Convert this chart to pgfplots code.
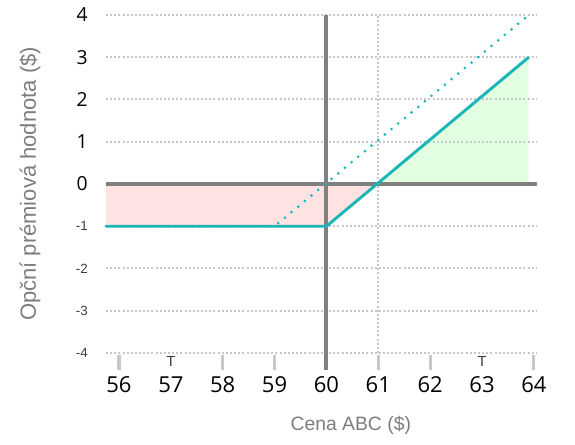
\documentclass[border=0pt]{standalone}
\usepackage{fontspec}
\setmainfont{Open Sans}
\newfontfamily\arial{Liberation Sans}
\usepackage{pgfplots}
\pgfplotsset{compat=1.18}
\definecolor{teal1}{RGB}{26,182,184}
\definecolor{gridc}{RGB}{200,200,200}
\definecolor{axgray}{RGB}{128,128,128}
\definecolor{redf}{RGB}{255,226,226}
\definecolor{greenf}{RGB}{226,255,226}
\definecolor{labgray}{RGB}{125,125,125}
\definecolor{neggray}{RGB}{60,60,60}
\newcommand{\neglab}[1]{{\arial\fontsize{10}{10}\selectfont\color{neggray}#1}}
\begin{document}
\begin{tikzpicture}
\begin{axis}[
  set layers=standard,
  at={(79.5pt,69pt)}, anchor=south west,
  scale only axis, width=323.25pt, height=253.5pt,
  xmin=55.75, xmax=64.06, ymin=-4, ymax=4,
  axis line style={draw=none},
  xtick={56,...,64}, ytick={-4,...,4},
  tick pos=left,
  major tick length=0pt,
  /pgf/number format/assume math mode=true,
  ymajorgrids,
  grid style={gridc, line width=1.5pt, dash pattern=on 1.5pt off 1.6pt},
  xticklabel style={font=\fontsize{16.5}{16.5}\selectfont, anchor=center, yshift=-24pt},
  yticklabel style={font=\fontsize{14.5}{15}\selectfont, anchor=east, inner sep=0pt, xshift=-13.5pt},
  yticklabels={{\neglab{-4}},{\neglab{-3}},{\neglab{-2}},{\neglab{-1}},0,1,2,3,4},
  extra x ticks={56,58,59,61,62,64},
  extra x tick labels={},
  extra x tick style={major tick length=11pt, tick align=outside, tick style={gridc, line width=2.3pt, yshift=-1.5pt}},
  ylabel={\arial Opční prémiová hodnota (\$)},
  ylabel style={font=\fontsize{16.5}{18}\selectfont, text=labgray, at={(axis description cs:-0.1763,0.5)}, anchor=center},
  xlabel={\arial Cena ABC (\$)},
  xlabel style={font=\fontsize{14.5}{16}\selectfont, text=labgray, at={(axis description cs:0.568,-0.213)}, anchor=center},
  clip=false,
]
% shaded regions
\addplot[draw=none, fill=redf, on layer=axis background] coordinates {(55.75,0) (61,0) (60,-1) (55.75,-1)} -- cycle;
\addplot[draw=none, fill=greenf, on layer=axis background] coordinates {(61,0) (63.9,3) (63.9,0)} -- cycle;
% dotted reference line at 61
\addplot[gridc, line width=1.5pt, dash pattern=on 1.5pt off 1.6pt] coordinates {(61,-4) (61,4)};
% thick zero lines
\addplot[axgray, line width=2.7pt] coordinates {(55.75,0) (64.06,0)};
\addplot[axgray, line width=3pt] coordinates {(60,4) (60,-4.4)};
% payoff lines
\addplot[teal1, line width=2.2pt] coordinates {(55.75,-1) (60,-1) (63.9,3)};
\addplot[teal1, line width=2.2pt, line cap=round, dash pattern=on 0pt off 6.5pt] coordinates {(55.75,-1) (59,-1) (63.9,4)};
% stray T glyphs
\node[font=\arial\fontsize{11}{11}\selectfont, text=neggray] at (axis cs:57,-4.2) {T};
\node[font=\arial\fontsize{11}{11}\selectfont, text=neggray] at (axis cs:63,-4.2) {T};
\end{axis}
\pgfresetboundingbox
\useasboundingbox (0,0) rectangle (431.25pt,333.75pt);
\end{tikzpicture}
\end{document}
